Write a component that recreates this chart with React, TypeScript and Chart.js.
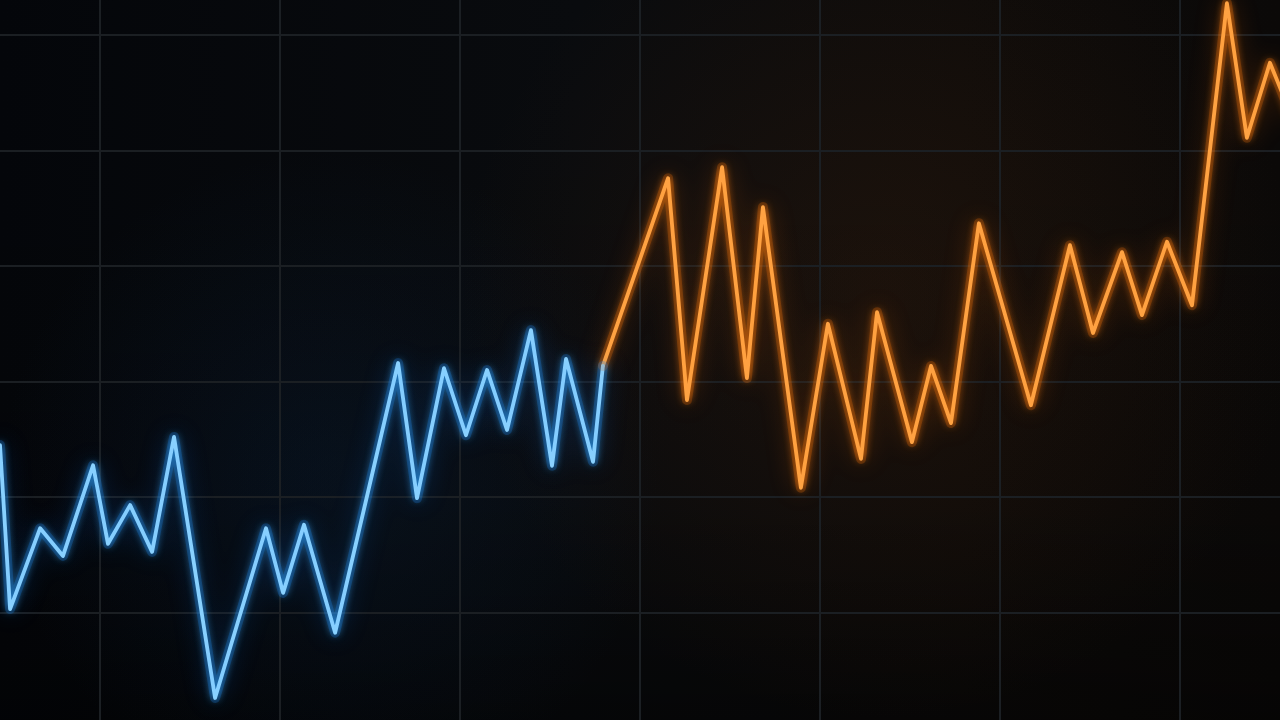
import React, { useEffect, useRef } from "react";
import { Chart, registerables } from "chart.js";

Chart.register(...registerables);

// Time positions (arbitrary units) and readings for the two segments
const blueX = [4.44, 5.0, 6.67, 7.94, 9.61, 10.44, 11.67, 12.89, 14.11, 16.39, 19.22, 20.17, 21.33, 23.06, 26.56, 27.61, 29.11, 30.33, 31.5, 32.61, 33.94, 35.11, 35.89, 37.39, 37.94];
const blueY = [49.0, 20.6, 34.6, 29.8, 45.5, 31.9, 38.6, 30.5, 50.4, 5.2, 34.6, 23.4, 35.2, 16.5, 63.2, 39.8, 62.3, 50.7, 62.0, 51.6, 68.9, 45.4, 63.9, 46.1, 62.7];

const orangeX = [37.94, 41.56, 42.61, 44.56, 45.94, 46.83, 48.94, 50.44, 52.28, 53.17, 55.11, 56.17, 57.28, 58.83, 61.72, 63.89, 65.17, 66.78, 67.89, 69.28, 70.67, 72.61, 73.72, 75.0, 76.2];
const orangeY = [62.7, 95.2, 56.8, 97.1, 60.6, 90.2, 41.6, 70.0, 46.6, 72.0, 49.5, 62.7, 52.8, 87.4, 55.9, 83.6, 68.4, 82.4, 71.5, 84.2, 73.2, 125.5, 102.2, 115.2, 106.0];

const xGridTicks = [10, 20, 30, 40, 50, 60, 70];
const yGridTicks = [20, 40, 60, 80, 100, 120];

const X_MIN = 4.44;
const X_MAX = 75.56;
const Y_MIN = 1.39;
const Y_MAX = 126.06;

const toPoints = (xs: number[], ys: number[]) => xs.map((x, i) => ({ x, y: ys[i] }));

const backgroundPlugin = {
  id: "neonBackground",
  beforeDraw(chart: any) {
    const { ctx, width, height } = chart;
    ctx.save();
    const g = ctx.createLinearGradient(0, 0, width, 0);
    g.addColorStop(0, "#04060a");
    g.addColorStop(0.45, "#090b0e");
    g.addColorStop(0.75, "#0d0b0a");
    g.addColorStop(1, "#0b0908");
    ctx.fillStyle = g;
    ctx.fillRect(0, 0, width, height);
    const v = ctx.createLinearGradient(0, 0, 0, height);
    v.addColorStop(0, "rgba(0,0,0,0)");
    v.addColorStop(0.7, "rgba(0,0,0,0.1)");
    v.addColorStop(1, "rgba(0,0,0,0.45)");
    ctx.fillStyle = v;
    ctx.fillRect(0, 0, width, height);
    const rb = ctx.createRadialGradient(330, 480, 20, 330, 480, 330);
    rb.addColorStop(0, "rgba(15,60,110,0.16)");
    rb.addColorStop(1, "rgba(15,60,110,0)");
    ctx.fillStyle = rb;
    ctx.fillRect(0, 0, width, height);
    const ro = ctx.createRadialGradient(880, 300, 20, 880, 300, 420);
    ro.addColorStop(0, "rgba(110,55,15,0.16)");
    ro.addColorStop(1, "rgba(110,55,15,0)");
    ctx.fillStyle = ro;
    ctx.fillRect(0, 0, width, height);
    ctx.restore();
  },
};

const glowPlugin = {
  id: "neonGlow",
  beforeDatasetDraw(chart: any, args: any) {
    const ds = chart.data.datasets[args.index];
    const ctx = chart.ctx;
    ctx.save();
    if (ds.glowColor) {
      ctx.shadowColor = ds.glowColor;
      ctx.shadowBlur = ds.glowBlur || 12;
    }
  },
  afterDatasetDraw(chart: any) {
    chart.ctx.restore();
  },
};

const lineBase = {
  pointRadius: 0,
  tension: 0,
  clip: false,
  borderJoinStyle: "round",
  borderCapStyle: "round",
};

export default function App() {
  const canvasRef = useRef<HTMLCanvasElement>(null);

  useEffect(() => {
    document.body.style.margin = "0";
    document.body.style.background = "#05070a";
    const canvas = canvasRef.current;
    if (!canvas) return;
    const chart = new Chart(canvas, {
      type: "line",
      data: {
        datasets: [
          {
            ...lineBase,
            label: "blue halo",
            data: toPoints(blueX, blueY),
            borderColor: "rgba(30,140,255,0.22)",
            borderWidth: 10,
            glowColor: "rgba(20,120,255,0.9)",
            glowBlur: 26,
          } as any,
          {
            ...lineBase,
            label: "orange halo",
            data: toPoints(orangeX, orangeY),
            borderColor: "rgba(255,120,10,0.22)",
            borderWidth: 10,
            glowColor: "rgba(255,110,0,0.9)",
            glowBlur: 26,
          } as any,
          {
            ...lineBase,
            label: "blue",
            data: toPoints(blueX, blueY),
            borderColor: "#b0ebff",
            borderWidth: 3.8,
            glowColor: "rgba(60,180,255,1)",
            glowBlur: 9,
          } as any,
          {
            ...lineBase,
            label: "orange",
            data: toPoints(orangeX, orangeY),
            borderColor: "#ffb458",
            borderWidth: 3.8,
            glowColor: "rgba(255,130,20,1)",
            glowBlur: 9,
          } as any,
        ],
      },
      options: {
        animation: false,
        responsive: false,
        maintainAspectRatio: false,
        layout: { padding: 0 },
        plugins: { legend: { display: false }, tooltip: { enabled: false } },
        scales: {
          x: {
            type: "linear",
            min: X_MIN,
            max: X_MAX,
            border: { display: false },
            grid: { color: "#1b1f23", lineWidth: 2, drawTicks: false },
            ticks: { display: false },
            afterBuildTicks: (axis: any) => {
              axis.ticks = xGridTicks.map((v) => ({ value: v }));
            },
          },
          y: {
            type: "linear",
            min: Y_MIN,
            max: Y_MAX,
            border: { display: false },
            grid: { color: "#1b1f23", lineWidth: 2, drawTicks: false },
            ticks: { display: false },
            afterBuildTicks: (axis: any) => {
              axis.ticks = yGridTicks.map((v) => ({ value: v }));
            },
          },
        },
      },
      plugins: [backgroundPlugin, glowPlugin],
    });
    return () => chart.destroy();
  }, []);

  return (
    <div style={{ position: "fixed", left: 0, top: 0, width: 1280, height: 720 }}>
      <canvas ref={canvasRef} width={1280} height={720} style={{ display: "block" }} />
    </div>
  );
}
